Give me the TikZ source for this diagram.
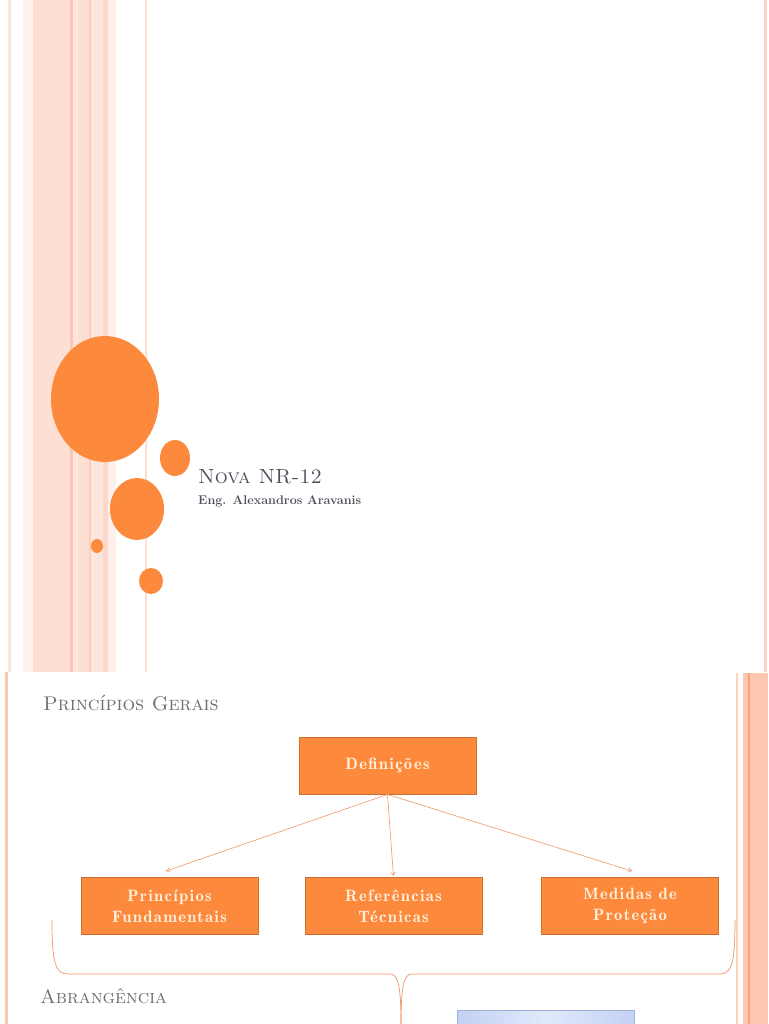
\documentclass[tikz,border=0pt]{standalone}
\usepackage{fontspec}
\usetikzlibrary{arrows.meta,calc}
\newfontfamily\boxfont[LetterSpace=8]{lmromandemi10-regular.otf}
\definecolor{orng}{HTML}{FD8A3C}
\definecolor{orngdk}{HTML}{CC6E2E}
\definecolor{arrowc}{HTML}{F39466}
\definecolor{cream}{HTML}{FFF1E0}
\definecolor{pkA}{HTML}{FDDFD4}
\definecolor{pkB}{HTML}{FBC6B3}
\definecolor{pkC}{HTML}{FEF0EA}
\definecolor{pkD}{HTML}{FDE6DD}
\definecolor{pkE}{HTML}{FDC7B2}
\definecolor{pkF}{HTML}{F9A27C}
\definecolor{titlec}{HTML}{6E6E72}
\definecolor{namec}{HTML}{4E505C}
\definecolor{bluel}{HTML}{C3D1F4}
\definecolor{bluem}{HTML}{E1E9FB}
\definecolor{blueb}{HTML}{9DAED6}
\tikzset{
  stripe/.style={fill=#1, draw=none},
  dot/.style={fill=orng, draw=none},
  orbox/.style={fill=orng, draw=orngdk, line width=0.9pt, minimum width=177pt, minimum height=57pt,
    align=center, text=cream, font=\boxfont\fontsize{16.5}{20.5}\selectfont, inner sep=0pt},
  link/.style={draw=arrowc, line width=0.6pt, -{To[length=4pt,width=5pt]}},
  slidetitle/.style={text=titlec, anchor=west, inner sep=0pt, font=\fontsize{19.8}{24}\selectfont},
  bracec/.style={draw=arrowc, line width=0.7pt}
}
\begin{document}
\begin{tikzpicture}[x=1pt,y=-1pt]
\useasboundingbox (0,0) rectangle (768,1024);
\fill[white] (0,0) rectangle (768,1024);
% ---- slide 1 stripes
\fill[stripe=pkD] (8,0) rectangle (11,672);
\fill[stripe=pkC] (23,0) rectangle (33,672);
\fill[stripe=pkA] (33,0) rectangle (70,672);
\fill[stripe=pkB] (70,0) rectangle (73,672);
\fill[stripe=pkD] (73,0) rectangle (78,672);
\fill[stripe=pkA] (78,0) rectangle (89,672);
\fill[stripe=pkB!70!pkA] (89,0) rectangle (91,672);
\fill[stripe=pkD] (91,0) rectangle (103,672);
\fill[stripe=pkA!70!pkB] (103,0) rectangle (108,672);
\fill[stripe=pkC] (108,0) rectangle (116,672);
\fill[stripe=pkA] (145,0) rectangle (147,672);
\fill[stripe=pkA!60!pkB] (764,0) rectangle (767,672);
% ---- circles
\fill[dot] (105,399) ellipse [x radius=54, y radius=63];
\fill[dot] (175,458) ellipse [x radius=15, y radius=18];
\fill[dot] (137,509) ellipse [x radius=27, y radius=31];
\fill[dot] (97,546) ellipse [x radius=6, y radius=7];
\fill[dot] (151,581) ellipse [x radius=12, y radius=13];
% ---- slide 1 text
\node[slidetitle, text=namec, font=\fontsize{20.5}{25}\selectfont] (t1) at (198,477) {\textsc{Nova NR-12}};
\node[anchor=west, inner sep=0pt, text=namec, font=\bfseries\fontsize{12.6}{15}\selectfont] (t2) at (198,501) {Eng. Alexandros Aravanis};
% ---- slide 2 stripes
\fill[stripe=pkE] (5,672) rectangle (8,1024);
\fill[stripe=pkE!80!white] (736,673) rectangle (738,1024);
\fill[stripe=pkE] (743,673) rectangle (768,1024);
\fill[stripe=pkF] (748,673) rectangle (750,1024);
% ---- slide 2 content
\node[slidetitle] (t3) at (43,703) {\textsc{Princípios Gerais}};
\node[orbox] (def) at (387.5,765.5) {Definições};
\node[orbox] (pf) at (169.5,906) {Princípios\\Fundamentais};
\node[orbox] (rt) at (393.5,906) {Referências\\Técnicas};
\node[orbox] (mp) at (630,906) {Medidas de\\Proteção};
\draw[link] (def.south) -- ($(pf.north)+(-3.5,-6)$);
\draw[link, shorten >=1pt] (def.south) -- (rt.north);
\draw[link] (def.south) -- ($(mp.north)+(2,-6)$);
% brace
\coordinate (bl) at (52,920);
\coordinate (br) at (735,920);
\coordinate (bt) at (401,1024);
\draw[bracec] (bl) .. controls (52,962) and (55,974) .. (68,974) -- (390,974)
  .. controls (398,974) and (401,985) .. (bt);
\draw[bracec] (br) .. controls (735,962) and (732,974) .. (720,974) -- (412,974)
  .. controls (404,974) and (401,985) .. (bt);
\node[slidetitle, font=\fontsize{19.4}{24}\selectfont] (t4) at (40,996) {\textsc{Abrangência}};
\draw[blueb, line width=0.7pt, left color=bluel, right color=bluel, middle color=bluem] (457,1010) rectangle (634,1030);
\end{tikzpicture}
\end{document}
